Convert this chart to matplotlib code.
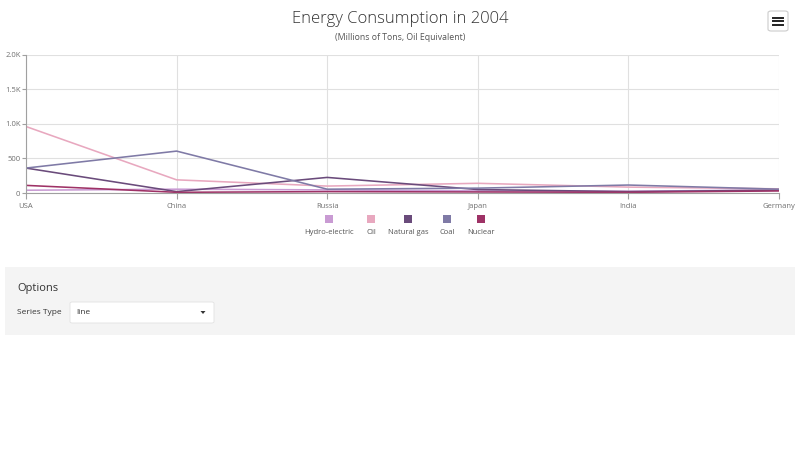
import matplotlib
matplotlib.use("Agg")
import matplotlib.pyplot as plt
from matplotlib.patches import Rectangle, FancyBboxPatch, Polygon
from matplotlib.ticker import FixedLocator, FuncFormatter

plt.rcParams['font.family'] = ['Open Sans', 'DejaVu Sans']

countries = ["USA", "China", "Russia", "Japan", "India", "Germany"]
hydro = [40, 55, 45, 30, 25, 45]
oil = [960, 190, 100, 140, 85, 60]
natural_gas = [360, 20, 225, 50, 20, 40]
coal = [360, 605, 55, 70, 115, 55]
nuclear = [110, 10, 20, 15, 10, 30]

series_names = ["Hydro-electric", "Oil", "Natural gas", "Coal", "Nuclear"]
series_values = [hydro, oil, natural_gas, coal, nuclear]
colors = ["#c99bd3", "#e8a8bf", "#6a4b7b", "#7f7aa6", "#9e3266"]

W, H = 800, 450
fig = plt.figure(figsize=(8, 4.5), dpi=100)

def fx(x):
    return x / W

def fy(y):
    return 1 - y / H

left, right, top, bottom = 26, 779, 54.5, 193
ax = fig.add_axes([fx(left), fy(bottom), (right - left) / W, (bottom - top) / H])

x = list(range(len(countries)))
for name, vals, c in zip(series_names, series_values, colors):
    ax.plot(x, vals, color=c, lw=1.15, solid_joinstyle='miter')

ax.set_xlim(0, len(countries) - 1)
ax.set_ylim(0, 2000)
ax.yaxis.set_major_locator(FixedLocator([0, 500, 1000, 1500, 2000]))
ax.yaxis.set_major_formatter(FuncFormatter(lambda v, p: "0" if v == 0 else ("500" if v == 500 else f"{v/1000:.1f}K")))
ax.set_xticks(x)
ax.set_xticklabels(countries)
ax.grid(True, color="#e0e0e0", lw=0.8)
ax.set_axisbelow(True)
for s in ["top", "right"]:
    ax.spines[s].set_visible(False)
for s in ["left", "bottom"]:
    ax.spines[s].set_color("#a0a0a0")
    ax.spines[s].set_linewidth(0.8)
ax.tick_params(axis='y', length=3, width=0.8, color="#a0a0a0", labelsize=5.5, labelcolor="#707070", pad=1)
ax.tick_params(axis='x', length=4, width=0.8, color="#a0a0a0", labelsize=5.5, labelcolor="#707070", pad=3, direction='out')

# Title
fig.text(0.5, fy(19), "Energy Consumption in 2004", ha='center', va='center',
         fontsize=12, color="#333333", fontweight='light')
fig.text(0.5, fy(37), "(Millions of Tons, Oil Equivalent)", ha='center', va='center',
         fontsize=6.3, color="#555555")

# Legend (swatch above label)
leg_x = [329, 371, 408, 447, 481]
for lx, name, c in zip(leg_x, series_names, colors):
    fig.patches.append(Rectangle((fx(lx - 4), fy(223)), 8 / W, 8 / H, transform=fig.transFigure,
                                 facecolor=c, edgecolor='none'))
    fig.text(fx(lx), fy(232), name, ha='center', va='center', fontsize=5.5, color="#555555")

# Menu button
fig.patches.append(FancyBboxPatch((fx(768), fy(31)), 20 / W, 20 / H, boxstyle="round,pad=0,rounding_size=0.004",
                                  transform=fig.transFigure, facecolor='white', edgecolor="#cccccc", lw=0.8))
for yy in [17.5, 21, 24.5]:
    fig.lines.append(plt.Line2D([fx(773), fx(783)], [fy(yy), fy(yy)], transform=fig.transFigure,
                                color="#222222", lw=1.4))

# Options panel
fig.patches.append(Rectangle((fx(5), fy(335)), 790 / W, 68 / H, transform=fig.transFigure,
                             facecolor="#f4f4f4", edgecolor='none'))
fig.text(fx(17), fy(288), "Options", ha='left', va='center', fontsize=8, color="#333333")
fig.text(fx(17), fy(312), "Series Type", ha='left', va='center', fontsize=6, color="#333333")
fig.patches.append(FancyBboxPatch((fx(70), fy(323)), 144 / W, 21 / H, boxstyle="round,pad=0,rounding_size=0.003",
                                  transform=fig.transFigure, facecolor='white', edgecolor="#e2e2e2", lw=0.6))
fig.text(fx(76), fy(312.5), "line", ha='left', va='center', fontsize=6, color="#333333")
fig.patches.append(Polygon([[fx(200.5), fy(311)], [fx(205.5), fy(311)], [fx(203), fy(314)]],
                           closed=True, transform=fig.transFigure, facecolor="#333333", edgecolor='none'))

fig.savefig("out.png", dpi=100)
